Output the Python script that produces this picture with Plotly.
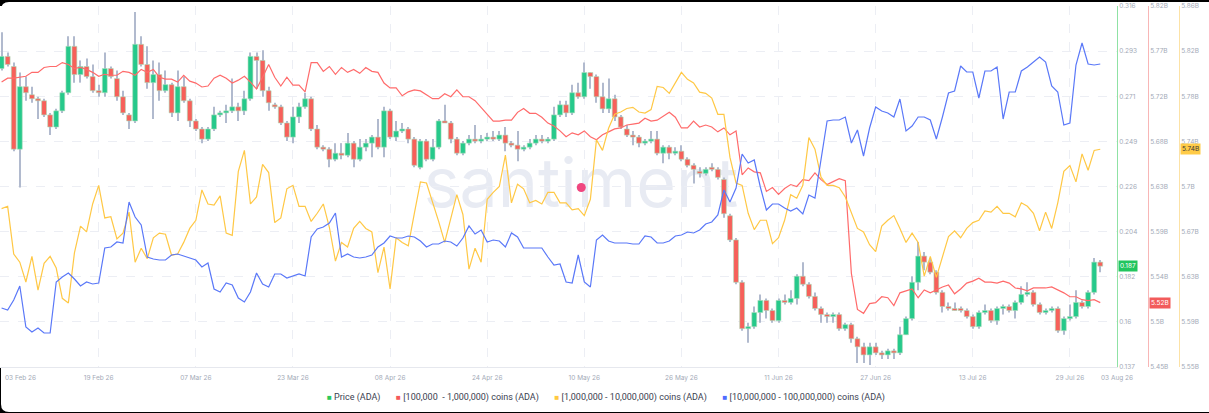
import numpy as np
import pandas as pd
import plotly.graph_objects as go

# daily ADA candles, 03 Feb 26 - 03 Aug 26
dates = pd.date_range("2026-02-03", "2026-08-03", freq="D")

price_open = [
    0.285, 0.291, 0.286, 0.245, 0.276, 0.272, 0.270, 0.269, 0.262, 0.256,
    0.264, 0.273, 0.296, 0.282, 0.286, 0.281, 0.274, 0.273, 0.285, 0.280,
    0.271, 0.262, 0.259, 0.297, 0.287, 0.278, 0.282, 0.274, 0.277, 0.263,
    0.276, 0.269, 0.259, 0.255, 0.250, 0.255, 0.262, 0.263, 0.264, 0.266,
    0.264, 0.270, 0.291, 0.289, 0.274, 0.267, 0.266, 0.258, 0.251, 0.261,
    0.266, 0.270, 0.255, 0.246, 0.245, 0.240, 0.243, 0.242, 0.248, 0.240,
    0.246, 0.248, 0.251, 0.246, 0.264, 0.251, 0.254, 0.255, 0.250, 0.236,
    0.249, 0.240, 0.246, 0.259, 0.258, 0.250, 0.243, 0.248, 0.250, 0.249,
    0.250, 0.251, 0.250, 0.252, 0.248, 0.247, 0.245, 0.246, 0.248, 0.250,
    0.249, 0.250, 0.262, 0.267, 0.263, 0.273, 0.271, 0.283, 0.281, 0.271,
    0.265, 0.270, 0.261, 0.255, 0.252, 0.251, 0.248, 0.249, 0.250, 0.243,
    0.246, 0.243, 0.244, 0.240, 0.237, 0.234, 0.233, 0.236, 0.235, 0.230,
    0.212, 0.200, 0.179, 0.156, 0.157, 0.164, 0.170, 0.165, 0.160, 0.170,
    0.169, 0.171, 0.182, 0.178, 0.172, 0.166, 0.163, 0.162, 0.163, 0.156,
    0.158, 0.151, 0.147, 0.143, 0.147, 0.144, 0.143, 0.145, 0.144, 0.153,
    0.161, 0.179, 0.192, 0.189, 0.184, 0.174, 0.167, 0.166, 0.166, 0.165,
    0.162, 0.157, 0.164, 0.165, 0.160, 0.166, 0.167, 0.165, 0.169, 0.173,
    0.174, 0.168, 0.164, 0.165, 0.166, 0.155, 0.161, 0.162, 0.169, 0.167,
    0.174, 0.189,
]
price_high = [
    0.303, 0.293, 0.288, 0.283, 0.281, 0.276, 0.271, 0.270, 0.263, 0.265,
    0.274, 0.301, 0.301, 0.289, 0.290, 0.287, 0.277, 0.293, 0.286, 0.284,
    0.274, 0.263, 0.313, 0.301, 0.296, 0.289, 0.288, 0.284, 0.278, 0.284,
    0.281, 0.270, 0.260, 0.256, 0.256, 0.266, 0.264, 0.267, 0.280, 0.268,
    0.274, 0.293, 0.293, 0.294, 0.276, 0.268, 0.267, 0.259, 0.266, 0.268,
    0.273, 0.271, 0.257, 0.247, 0.246, 0.248, 0.248, 0.253, 0.249, 0.250,
    0.250, 0.252, 0.260, 0.266, 0.265, 0.259, 0.258, 0.256, 0.251, 0.250,
    0.250, 0.250, 0.260, 0.267, 0.259, 0.251, 0.249, 0.252, 0.257, 0.252,
    0.253, 0.254, 0.254, 0.256, 0.249, 0.254, 0.247, 0.250, 0.252, 0.252,
    0.251, 0.266, 0.269, 0.269, 0.277, 0.278, 0.288, 0.283, 0.282, 0.278,
    0.280, 0.272, 0.262, 0.257, 0.254, 0.252, 0.250, 0.254, 0.254, 0.247,
    0.247, 0.246, 0.247, 0.241, 0.238, 0.236, 0.236, 0.238, 0.236, 0.231,
    0.213, 0.201, 0.180, 0.159, 0.167, 0.173, 0.171, 0.166, 0.171, 0.173,
    0.175, 0.183, 0.189, 0.179, 0.174, 0.167, 0.164, 0.164, 0.164, 0.159,
    0.159, 0.152, 0.149, 0.149, 0.149, 0.145, 0.146, 0.146, 0.157, 0.162,
    0.182, 0.199, 0.194, 0.191, 0.185, 0.175, 0.169, 0.169, 0.167, 0.166,
    0.163, 0.165, 0.168, 0.166, 0.167, 0.168, 0.168, 0.170, 0.177, 0.179,
    0.175, 0.169, 0.166, 0.167, 0.167, 0.162, 0.168, 0.175, 0.170, 0.175,
    0.191, 0.190,
]
price_low = [
    0.284, 0.286, 0.244, 0.226, 0.269, 0.268, 0.260, 0.261, 0.252, 0.255,
    0.263, 0.272, 0.278, 0.278, 0.280, 0.273, 0.271, 0.271, 0.280, 0.269,
    0.262, 0.255, 0.258, 0.286, 0.275, 0.260, 0.269, 0.273, 0.261, 0.259,
    0.268, 0.256, 0.254, 0.248, 0.249, 0.254, 0.261, 0.258, 0.263, 0.259,
    0.262, 0.269, 0.275, 0.271, 0.264, 0.265, 0.257, 0.249, 0.248, 0.258,
    0.265, 0.254, 0.245, 0.244, 0.236, 0.239, 0.240, 0.241, 0.236, 0.239,
    0.244, 0.241, 0.245, 0.241, 0.250, 0.249, 0.253, 0.248, 0.236, 0.235,
    0.239, 0.239, 0.245, 0.258, 0.248, 0.242, 0.242, 0.247, 0.248, 0.248,
    0.249, 0.249, 0.249, 0.244, 0.246, 0.239, 0.244, 0.245, 0.247, 0.248,
    0.248, 0.249, 0.261, 0.261, 0.262, 0.270, 0.270, 0.275, 0.268, 0.263,
    0.263, 0.259, 0.255, 0.251, 0.247, 0.246, 0.247, 0.248, 0.242, 0.238,
    0.240, 0.242, 0.239, 0.236, 0.228, 0.231, 0.232, 0.234, 0.230, 0.211,
    0.199, 0.178, 0.155, 0.149, 0.156, 0.159, 0.161, 0.159, 0.159, 0.168,
    0.168, 0.168, 0.177, 0.171, 0.165, 0.159, 0.159, 0.159, 0.155, 0.155,
    0.149, 0.139, 0.139, 0.138, 0.143, 0.141, 0.141, 0.141, 0.143, 0.153,
    0.160, 0.175, 0.185, 0.183, 0.173, 0.164, 0.165, 0.165, 0.164, 0.161,
    0.156, 0.156, 0.163, 0.159, 0.158, 0.163, 0.164, 0.161, 0.168, 0.172,
    0.167, 0.163, 0.163, 0.164, 0.154, 0.153, 0.160, 0.161, 0.166, 0.166,
    0.173, 0.184,
]
price_close = [
    0.291, 0.287, 0.245, 0.276, 0.273, 0.270, 0.269, 0.262, 0.256, 0.264,
    0.273, 0.296, 0.282, 0.286, 0.281, 0.274, 0.273, 0.285, 0.281, 0.271,
    0.263, 0.259, 0.297, 0.287, 0.278, 0.282, 0.274, 0.277, 0.263, 0.276,
    0.269, 0.259, 0.255, 0.250, 0.255, 0.262, 0.263, 0.264, 0.266, 0.264,
    0.270, 0.291, 0.289, 0.274, 0.268, 0.266, 0.258, 0.251, 0.261, 0.266,
    0.270, 0.255, 0.246, 0.245, 0.240, 0.243, 0.242, 0.248, 0.240, 0.246,
    0.248, 0.251, 0.246, 0.264, 0.251, 0.254, 0.255, 0.250, 0.237, 0.249,
    0.240, 0.246, 0.259, 0.258, 0.250, 0.243, 0.248, 0.250, 0.249, 0.250,
    0.251, 0.250, 0.252, 0.248, 0.247, 0.245, 0.246, 0.248, 0.250, 0.249,
    0.250, 0.262, 0.267, 0.263, 0.273, 0.271, 0.283, 0.281, 0.271, 0.265,
    0.270, 0.261, 0.256, 0.252, 0.251, 0.248, 0.249, 0.250, 0.243, 0.246,
    0.243, 0.244, 0.240, 0.237, 0.235, 0.233, 0.235, 0.235, 0.231, 0.213,
    0.200, 0.179, 0.156, 0.157, 0.164, 0.170, 0.165, 0.160, 0.170, 0.169,
    0.171, 0.182, 0.178, 0.172, 0.166, 0.163, 0.162, 0.163, 0.156, 0.158,
    0.151, 0.147, 0.143, 0.147, 0.144, 0.143, 0.145, 0.144, 0.153, 0.161,
    0.179, 0.192, 0.189, 0.184, 0.174, 0.167, 0.166, 0.165, 0.165, 0.162,
    0.157, 0.164, 0.165, 0.160, 0.166, 0.167, 0.165, 0.169, 0.173, 0.174,
    0.168, 0.164, 0.165, 0.166, 0.155, 0.161, 0.162, 0.169, 0.167, 0.174,
    0.189, 0.187,
]

# supply held by each holder band, billions of ADA
coins_100k_1m = [
    5.742, 5.746, 5.746, 5.747, 5.748, 5.752, 5.752, 5.757, 5.758, 5.758,
    5.762, 5.760, 5.756, 5.757, 5.755, 5.752, 5.748, 5.750, 5.749, 5.749,
    5.753, 5.752, 5.749, 5.755, 5.752, 5.755, 5.747, 5.745, 5.745, 5.742,
    5.749, 5.743, 5.741, 5.737, 5.738, 5.746, 5.749, 5.746, 5.741, 5.744,
    5.748, 5.742, 5.735, 5.747, 5.760, 5.747, 5.738, 5.747, 5.739, 5.739,
    5.732, 5.762, 5.762, 5.753, 5.758, 5.750, 5.757, 5.752, 5.755, 5.751,
    5.757, 5.753, 5.752, 5.741, 5.736, 5.736, 5.728, 5.732, 5.734, 5.733,
    5.729, 5.725, 5.725, 5.730, 5.727, 5.734, 5.727, 5.727, 5.723, 5.716,
    5.708, 5.702, 5.702, 5.703, 5.703, 5.711, 5.715, 5.710, 5.710, 5.706,
    5.700, 5.697, 5.692, 5.686, 5.690, 5.688, 5.692, 5.686, 5.683, 5.688,
    5.691, 5.694, 5.695, 5.698, 5.699, 5.700, 5.705, 5.702, 5.703, 5.707,
    5.711, 5.706, 5.695, 5.695, 5.702, 5.696, 5.698, 5.696, 5.691, 5.695,
    5.688, 5.692, 5.647, 5.654, 5.650, 5.649, 5.630, 5.634, 5.627, 5.633,
    5.637, 5.635, 5.642, 5.641, 5.649, 5.642, 5.637, 5.640, 5.643, 5.641,
    5.546, 5.509, 5.505, 5.515, 5.516, 5.522, 5.521, 5.513, 5.526, 5.528,
    5.530, 5.521, 5.529, 5.526, 5.529, 5.532, 5.534, 5.525, 5.530, 5.536,
    5.538, 5.541, 5.537, 5.537, 5.536, 5.538, 5.536, 5.531, 5.530, 5.528,
    5.531, 5.531, 5.531, 5.532, 5.529, 5.526, 5.522, 5.522, 5.519, 5.518,
    5.519, 5.516,
]
coins_1m_10m = [
    5.686, 5.688, 5.647, 5.640, 5.623, 5.645, 5.616, 5.639, 5.645, 5.635,
    5.609, 5.605, 5.648, 5.671, 5.666, 5.690, 5.706, 5.678, 5.679, 5.660,
    5.665, 5.683, 5.640, 5.652, 5.643, 5.661, 5.665, 5.664, 5.646, 5.647,
    5.657, 5.669, 5.676, 5.702, 5.690, 5.689, 5.697, 5.665, 5.663, 5.718,
    5.736, 5.690, 5.696, 5.724, 5.717, 5.674, 5.678, 5.703, 5.706, 5.688,
    5.688, 5.675, 5.682, 5.690, 5.670, 5.641, 5.657, 5.653, 5.669, 5.675,
    5.669, 5.666, 5.631, 5.653, 5.617, 5.661, 5.657, 5.654, 5.682, 5.709,
    5.708, 5.692, 5.675, 5.657, 5.677, 5.698, 5.681, 5.634, 5.652, 5.640,
    5.694, 5.700, 5.705, 5.732, 5.691, 5.707, 5.703, 5.691, 5.693, 5.690,
    5.700, 5.700, 5.691, 5.691, 5.685, 5.686, 5.680, 5.694, 5.745, 5.736,
    5.755, 5.767, 5.769, 5.772, 5.773, 5.769, 5.768, 5.771, 5.791, 5.790,
    5.785, 5.794, 5.803, 5.797, 5.794, 5.786, 5.785, 5.781, 5.767, 5.767,
    5.730, 5.708, 5.706, 5.682, 5.668, 5.676, 5.676, 5.656, 5.661, 5.676,
    5.698, 5.695, 5.706, 5.747, 5.737, 5.713, 5.706, 5.706, 5.704, 5.696,
    5.682, 5.669, 5.666, 5.655, 5.649, 5.671, 5.676, 5.680, 5.669, 5.657,
    5.665, 5.657, 5.628, 5.645, 5.627, 5.645, 5.662, 5.667, 5.661, 5.669,
    5.674, 5.676, 5.684, 5.683, 5.688, 5.682, 5.682, 5.679, 5.691, 5.688,
    5.682, 5.667, 5.683, 5.669, 5.691, 5.718, 5.723, 5.709, 5.733, 5.719,
    5.736, 5.737,
]
coins_10m_100m = [
    6.118, 6.114, 6.134, 6.162, 6.080, 6.070, 6.078, 6.068, 6.068, 6.170,
    6.180, 6.188, 6.176, 6.162, 6.170, 6.166, 6.168, 6.238, 6.240, 6.250,
    6.248, 6.330, 6.300, 6.284, 6.220, 6.216, 6.214, 6.214, 6.224, 6.226,
    6.222, 6.218, 6.214, 6.200, 6.208, 6.156, 6.150, 6.168, 6.164, 6.138,
    6.130, 6.150, 6.188, 6.166, 6.160, 6.186, 6.186, 6.178, 6.182, 6.186,
    6.182, 6.260, 6.276, 6.280, 6.288, 6.308, 6.220, 6.226, 6.220, 6.218,
    6.220, 6.224, 6.240, 6.248, 6.262, 6.258, 6.258, 6.262, 6.260, 6.252,
    6.240, 6.246, 6.246, 6.252, 6.250, 6.242, 6.258, 6.282, 6.266, 6.274,
    6.250, 6.254, 6.252, 6.240, 6.268, 6.260, 6.238, 6.238, 6.238, 6.238,
    6.220, 6.204, 6.206, 6.170, 6.168, 6.224, 6.170, 6.160, 6.254, 6.264,
    6.252, 6.248, 6.248, 6.248, 6.246, 6.246, 6.262, 6.260, 6.248, 6.248,
    6.252, 6.262, 6.264, 6.270, 6.268, 6.274, 6.286, 6.290, 6.304, 6.354,
    6.330, 6.358, 6.426, 6.408, 6.414, 6.360, 6.314, 6.326, 6.326, 6.318,
    6.312, 6.318, 6.306, 6.344, 6.338, 6.420, 6.492, 6.494, 6.494, 6.500,
    6.448, 6.474, 6.422, 6.478, 6.520, 6.512, 6.508, 6.500, 6.536, 6.472,
    6.482, 6.500, 6.500, 6.494, 6.456, 6.500, 6.548, 6.552, 6.602, 6.590,
    6.590, 6.538, 6.592, 6.592, 6.600, 6.496, 6.550, 6.550, 6.592, 6.600,
    6.610, 6.620, 6.610, 6.562, 6.550, 6.484, 6.488, 6.604, 6.648, 6.606,
    6.604, 6.606,
]

# axis ranges and tick labels as printed on the chart
price_range = [0.137, 0.316]
price_ticks = ["0.137", "0.16", "0.182", "0.204", "0.226", "0.249", "0.271", "0.293", "0.316"]
band1_range = [5.45, 5.82]
band1_ticks = ["5.45B", "5.5B", "5.54B", "5.59B", "5.63B", "5.68B", "5.72B", "5.77B", "5.82B"]
band2_range = [5.55, 5.86]
band2_ticks = ["5.55B", "5.59B", "5.63B", "5.67B", "5.7B", "5.74B", "5.78B", "5.82B", "5.86B"]
band3_range = [6.0, 6.722]

x_ticks = pd.date_range("2026-02-03", "2026-07-29", freq="16D")

# santiment insight marker
insight_date = pd.Timestamp("2026-05-09 12:00")
insight_price = 0.226

names = ["Price (ADA)", "[100,000  - 1,000,000) coins (ADA)",
         "[1,000,000 - 10,000,000) coins (ADA)", "[10,000,000 - 100,000,000) coins (ADA)"]
legend_colors = ["#2bc95a", "#f55a5a", "#ffc940", "#4f6bff"]

GREEN = "#26c98b"
RED = "#f7605a"
WICK = "#b1bace"
RED_LINE = "#ff6b6b"
YELLOW = "#ffc845"
BLUE = "#5a78f8"
TICK = dict(size=6.5, color="#a3aab7", family="Inter")
W, H = 1209, 413
x_end = 1117 / W
DAY = 86400000

o = np.array(price_open)
c = np.array(price_close)
body_base = np.minimum(o, c)
body_size = np.maximum(np.abs(c - o), 0.0006)
body_color = np.where(c >= o, GREEN, RED)

fig = go.Figure()

# wicks then bodies
fig.add_trace(go.Bar(x=dates, base=price_low, y=np.array(price_high) - np.array(price_low),
                     width=0.17 * DAY, marker=dict(color=WICK, line=dict(width=0)),
                     showlegend=False))
fig.add_trace(go.Bar(x=dates, base=body_base, y=body_size, width=0.8 * DAY,
                     marker=dict(color=body_color, line=dict(color="#a9dbb8", width=0.6)),
                     showlegend=False))
fig.add_trace(go.Scatter(x=dates, y=coins_100k_1m, yaxis="y2", mode="lines",
                         line=dict(color=RED_LINE, width=1.2), showlegend=False))
fig.add_trace(go.Scatter(x=dates, y=coins_1m_10m, yaxis="y3", mode="lines",
                         line=dict(color=YELLOW, width=1.2), showlegend=False))
fig.add_trace(go.Scatter(x=dates, y=coins_10m_100m, yaxis="y4", mode="lines",
                         line=dict(color=BLUE, width=1.2), showlegend=False))
fig.add_trace(go.Scatter(x=[insight_date], y=[insight_price], mode="markers",
                         marker=dict(color="#f0467f", size=9), showlegend=False))

# rounded card on dark page
py = lambda y: (367 - y) / 361
px = lambda x: x / W
r = 8
top, bottom = 2, 412
card = (f"M {px(1 + r)},{py(top)} L {px(W + 10)},{py(top)} L {px(W + 10)},{py(bottom)} "
        f"L {px(1 + r)},{py(bottom)} Q {px(1)},{py(bottom)} {px(1)},{py(bottom - r)} "
        f"L {px(1)},{py(top + r)} Q {px(1)},{py(top)} {px(1 + r)},{py(top)} Z")

# legend line: coloured square + series name
legend_text = ("\u00a0" * 7).join(
    f'<span style="color:{col};font-size:8px">\u25a0</span>\u00a0{name}'
    for name, col in zip(names, legend_colors)
)

fig.update_layout(
    width=W, height=H,
    margin=dict(l=0, r=0, t=6, b=46),
    paper_bgcolor="#000000",
    plot_bgcolor="#ffffff",
    hovermode=False,
    barmode="overlay",
    showlegend=False,
    font=dict(family="Inter", color="#3a4150"),
    xaxis=dict(
        domain=[0, x_end], automargin=False,
        range=[dates[0] - pd.Timedelta(hours=6.3), dates[0] + pd.Timedelta(days=183.76)],
        tickvals=list(x_ticks[1:]), tickformat="%d %b %y",
        showgrid=True, gridcolor="#eceef4", griddash="dash",
        showline=True, linecolor="#e6e8ee", ticks="", tickfont=TICK,
        zeroline=False, ticklabelstandoff=4,
    ),
    yaxis=dict(
        range=price_range, side="right", anchor="x", automargin=False,
        tickvals=list(np.linspace(*price_range, 9)), ticktext=price_ticks,
        showgrid=True, gridcolor="#eceef4", griddash="dash",
        showline=True, linecolor="#8fe2a4", ticks="", tickfont=TICK, zeroline=False,
    ),
    yaxis2=dict(
        range=band1_range, overlaying="y", side="right", anchor="free", position=1148 / W,
        automargin=False, tickvals=list(np.linspace(*band1_range, 9)), ticktext=band1_ticks,
        showgrid=False, showline=True, linecolor="#f8b6b6", ticks="", tickfont=TICK, zeroline=False,
    ),
    yaxis3=dict(
        range=band2_range, overlaying="y", side="right", anchor="free", position=1179 / W,
        automargin=False, tickvals=list(np.linspace(*band2_range, 9)), ticktext=band2_ticks,
        showgrid=False, showline=True, linecolor="#fce2a6", ticks="", tickfont=TICK, zeroline=False,
    ),
    yaxis4=dict(range=band3_range, overlaying="y", visible=False, automargin=False),
    shapes=[
        dict(type="path", path=card, xref="paper", yref="paper", fillcolor="#ffffff",
             line=dict(width=0), layer="below"),
        dict(type="rect", xref="paper", yref="paper", x0=px(420), x1=px(742), y0=py(225), y1=py(135),
             line=dict(width=0), fillcolor="rgba(0,0,0,0)", layer="below",
             label=dict(text="santiment", textposition="middle center",
                        font=dict(size=68, color="#e8ebf3", family="Inter"))),
    ],
    annotations=[
        dict(x=px(606), y=py(397), xref="paper", yref="paper", xanchor="center", yanchor="middle",
             text=legend_text, showarrow=False, font=dict(size=9, color="#3a4150", family="Roboto")),
        dict(x=dates[0], y=0, xref="x", yref="paper", yanchor="top", xanchor="left", xshift=1, yshift=-5,
             text=dates[0].strftime("%d %b %y"), showarrow=False, font=TICK),
        dict(x=dates[-1], y=0, xref="x", yref="paper", yanchor="top", xanchor="left", xshift=-1, yshift=-5,
             text=dates[-1].strftime("%d %b %y"), showarrow=False, font=TICK),
        dict(x=x_end, y=price_close[-1], xref="paper", yref="y", xanchor="left", xshift=1,
             text=f"{price_close[-1]:.3f}", showarrow=False, bgcolor="#22c55e", borderpad=1,
             font=dict(size=6.5, color="#ffffff", family="Inter")),
        dict(x=1148 / W, y=coins_100k_1m[-1], xref="paper", yref="y2", xanchor="left", xshift=1,
             text=f"{coins_100k_1m[-1]:.2f}B", showarrow=False, bgcolor="#f25b5b", borderpad=1,
             font=dict(size=6.5, color="#ffffff", family="Inter")),
        dict(x=1179 / W, y=coins_1m_10m[-1], xref="paper", yref="y3", xanchor="left", xshift=1,
             text=f"{coins_1m_10m[-1]:.2f}B", showarrow=False, bgcolor="#ffcb47", borderpad=1,
             font=dict(size=6.5, color="#3a3a3a", family="Inter")),
    ],
)

# page margin off so the figure sits at the window origin
fig.write_html("out.html", config={"displayModeBar": False},
               post_script="document.body.style.margin='0';")
